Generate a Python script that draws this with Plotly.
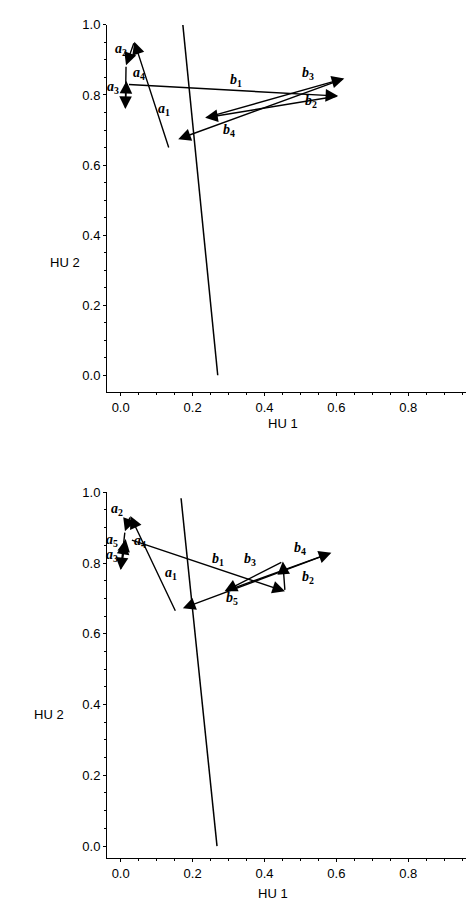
import plotly.graph_objects as go

top_names = ["a1", "a2", "a3", "a4", "b1", "b2", "b3", "b4"]
top_x0 = [0.135, 0.038, 0.015, 0.013, 0.019, 0.605, 0.235, 0.622]
top_y0 = [0.646, 0.952, 0.885, 0.76, 0.83, 0.797, 0.735, 0.847]
top_x1 = [0.038, 0.015, 0.013, 0.016, 0.605, 0.235, 0.622, 0.16]
top_y1 = [0.952, 0.885, 0.76, 0.84, 0.797, 0.735, 0.847, 0.674]
top_lx = [0.12, 0.0, -0.02, 0.05, 0.32, 0.53, 0.52, 0.30]
top_ly = [0.76, 0.93, 0.82, 0.86, 0.84, 0.78, 0.86, 0.70]
top_sep = ([0.173, 0.27], [1.0, 0.0])

bot_names = ["a1", "a2", "a3", "a4", "a5", "b1", "b2", "b3", "b4", "b5"]
bot_x0 = [0.154, 0.027, 0.012, 0.0, 0.003, 0.027, 0.457, 0.451, 0.289, 0.586]
bot_y0 = [0.661, 0.933, 0.89, 0.78, 0.80, 0.866, 0.72, 0.804, 0.72, 0.829]
bot_x1 = [0.027, 0.012, 0.0, 0.012, 0.014, 0.457, 0.451, 0.289, 0.586, 0.173]
bot_y1 = [0.933, 0.89, 0.78, 0.86, 0.868, 0.72, 0.804, 0.72, 0.829, 0.672]
bot_lx = [0.14, -0.01, -0.025, 0.055, -0.025, 0.27, 0.52, 0.36, 0.50, 0.31]
bot_ly = [0.77, 0.95, 0.82, 0.86, 0.865, 0.81, 0.76, 0.81, 0.84, 0.70]
bot_sep = ([0.168, 0.268], [0.983, 0.0])

ticks = [0.0, 0.2, 0.4, 0.6, 0.8, 1.0]
tick_text = ["0.0", "0.2", "0.4", "0.6", "0.8", "1.0"]

fig = go.Figure()
font = dict(family="Liberation Sans", size=13, color="black")
fig.add_trace(go.Scatter(x=top_sep[0], y=top_sep[1], mode="lines",
                         line=dict(color="black", width=1.5), xaxis="x", yaxis="y", showlegend=False))
fig.add_trace(go.Scatter(x=bot_sep[0], y=bot_sep[1], mode="lines",
                         line=dict(color="black", width=1.5), xaxis="x2", yaxis="y2", showlegend=False))

ann = []
def add(names, x0, y0, x1, y1, lx, ly, xr, yr):
    for n, a, b, c, d, p, q in zip(names, x0, y0, x1, y1, lx, ly):
        ann.append(dict(x=c, y=d, ax=a, ay=b, xref=xr, yref=yr, axref=xr, ayref=yr,
                        showarrow=True, arrowhead=2, arrowsize=1.8, arrowwidth=1.4,
                        arrowcolor="black", text=""))
        ann.append(dict(x=p, y=q, xref=xr, yref=yr, showarrow=False,
                        text="<b><i>%s</i><sub>%s</sub></b>" % (n[0], n[1]),
                        font=dict(family="Liberation Serif", size=14, color="black")))
add(top_names, top_x0, top_y0, top_x1, top_y1, top_lx, top_ly, "x", "y")
add(bot_names, bot_x0, bot_y0, bot_x1, bot_y1, bot_lx, bot_ly, "x2", "y2")
ann.append(dict(x=0.085, y=1-240/906, xref="paper", yref="paper", showarrow=False, text="HU 2", font=font))
ann.append(dict(x=0.05, y=1-715/906, xref="paper", yref="paper", showarrow=False, text="HU 2", font=font))
ann.append(dict(x=275/474, y=1-412/906, xref="paper", yref="paper", showarrow=False, text="HU 1", font=font))
ann.append(dict(x=265/474, y=1-895/906, xref="paper", yref="paper", showarrow=False, text="HU 1", font=font))

ax = dict(showgrid=False, zeroline=False, showline=True, linecolor="black", linewidth=1,
          ticks="outside", ticklen=3, tickcolor="black", tickfont=font,
          tickvals=ticks, ticktext=tick_text,
          minor=dict(ticks="outside", ticklen=2, dtick=0.05, tickcolor="black"))
fig.update_layout(
    width=474, height=906, margin=dict(l=0, r=0, t=0, b=0),
    plot_bgcolor="white", paper_bgcolor="white", showlegend=False,
    xaxis=dict(ax, domain=[99/474, 1.0], range=[-0.038, 1.005], anchor="y"),
    yaxis=dict(ax, domain=[1-380/906, 1-10/906], range=[-0.048, 1.0], anchor="x"),
    xaxis2=dict(ax, domain=[99/474, 1.0], range=[-0.038, 1.005], anchor="y2"),
    yaxis2=dict(ax, domain=[1-850/906, 1-481/906], range=[-0.035, 1.0], anchor="x2"),
    annotations=ann,
)
fig.write_html("out.html")
